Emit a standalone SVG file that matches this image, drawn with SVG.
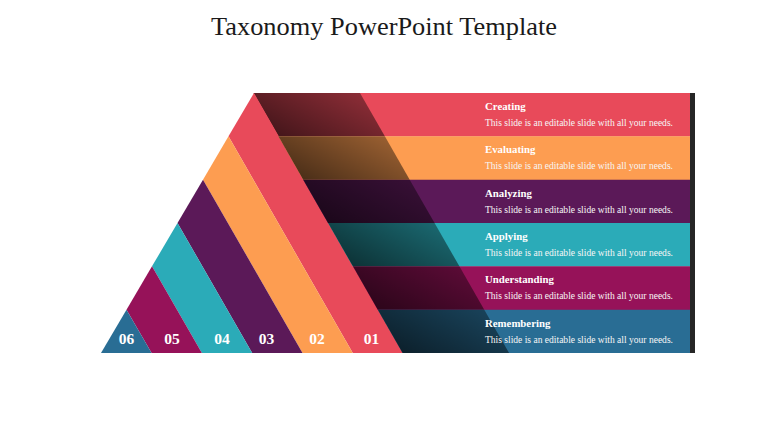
<svg xmlns="http://www.w3.org/2000/svg" width="768" height="433" viewBox="0 0 768 433">
<defs>
<linearGradient id="shade" x1="0" y1="0.8" x2="1" y2="0.2">
<stop offset="0" stop-color="#000" stop-opacity="0.72"/>
<stop offset="0.5" stop-color="#000" stop-opacity="0.55"/>
<stop offset="1" stop-color="#000" stop-opacity="0.38"/>
</linearGradient>
<style>
.title{font-family:"Liberation Serif","DejaVu Serif",serif;font-size:25px;fill:#1a1a1a;}
.head{font-family:"Liberation Serif","DejaVu Serif",serif;font-size:10.8px;font-weight:bold;fill:#ffffff;}
.desc{font-family:"Liberation Serif","DejaVu Serif",serif;font-size:9.6px;fill:#f6f6f6;}
.num{font-family:"Liberation Serif","DejaVu Serif",serif;font-size:15.5px;font-weight:bold;fill:#ffffff;text-anchor:middle;}
.shade{fill:url(#shade);}
.red{fill:#E84A5A;}
.orange{fill:#FD9D51;}
.purple{fill:#5B1958;}
.teal{fill:#2BABB8;}
.magenta{fill:#961259;}
.blue{fill:#296D94;}
</style>
</defs>
<rect width="768" height="433" fill="#ffffff"/>
<text class="title" x="384" y="35" text-anchor="middle" textLength="346" lengthAdjust="spacingAndGlyphs">Taxonomy PowerPoint Template</text>

<g id="level-01">
<polygon class="red" points="253.5,93 690,93 690,136.6 278.4,136.6"/>
<polygon class="shade" points="253.5,93 360,93 384.85,136.33 278.4,136.33"/>
<polygon class="red" points="254,93 403.1,353 352.8,353 228.5,136.33"/>
<text class="num" x="371.5" y="343.5">01</text>
<text class="head" x="485" y="110">Creating</text>
<text class="desc" x="485" y="126" textLength="188" lengthAdjust="spacingAndGlyphs">This slide is an editable slide with all your needs.</text>
</g>

<g id="level-02">
<polygon class="orange" points="278.4,136.33 690,136.33 690,179.9 303.2,179.9"/>
<polygon class="shade" points="278.4,136.33 384.85,136.33 409.7,179.67 303.2,179.67"/>
<polygon class="orange" points="228.5,136.33 352.8,353 302.5,353 203,179.67"/>
<text class="num" x="317" y="343.5">02</text>
<text class="head" x="485" y="153.3">Evaluating</text>
<text class="desc" x="485" y="169.3" textLength="188" lengthAdjust="spacingAndGlyphs">This slide is an editable slide with all your needs.</text>
</g>

<g id="level-03">
<polygon class="purple" points="303.2,179.67 690,179.67 690,223.2 328.1,223.2"/>
<polygon class="shade" points="303.2,179.67 409.7,179.67 434.56,223 328.1,223"/>
<polygon class="purple" points="203,179.67 302.5,353 252.2,353 177.5,223"/>
<text class="num" x="266.5" y="343.5">03</text>
<text class="head" x="485" y="196.7">Analyzing</text>
<text class="desc" x="485" y="212.7" textLength="188" lengthAdjust="spacingAndGlyphs">This slide is an editable slide with all your needs.</text>
</g>

<g id="level-04">
<polygon class="teal" points="328.1,223 690,223 690,266.6 352.9,266.6"/>
<polygon class="shade" points="328.1,223 434.56,223 459.4,266.33 352.9,266.33"/>
<polygon class="teal" points="177.5,223 252.2,353 201.9,353 152,266.33"/>
<text class="num" x="222" y="343.5">04</text>
<text class="head" x="485" y="240">Applying</text>
<text class="desc" x="485" y="256" textLength="188" lengthAdjust="spacingAndGlyphs">This slide is an editable slide with all your needs.</text>
</g>

<g id="level-05">
<polygon class="magenta" points="352.9,266.33 690,266.33 690,309.9 377.8,309.9"/>
<polygon class="shade" points="352.9,266.33 459.4,266.33 484.26,309.67 377.8,309.67"/>
<polygon class="magenta" points="152,266.33 201.9,353 151.6,353 126.5,309.67"/>
<text class="num" x="172" y="343.5">05</text>
<text class="head" x="485" y="283.3">Understanding</text>
<text class="desc" x="485" y="299.3" textLength="188" lengthAdjust="spacingAndGlyphs">This slide is an editable slide with all your needs.</text>
</g>

<g id="level-06">
<polygon class="blue" points="377.8,309.67 690,309.67 690,353 402.6,353"/>
<polygon class="shade" points="377.8,309.67 484.26,309.67 509.1,353 402.6,353"/>
<polygon class="blue" points="126.5,309.67 151.6,353 101,353"/>
<text class="num" x="126.5" y="343.5">06</text>
<text class="head" x="485" y="326.7">Remembering</text>
<text class="desc" x="485" y="342.7" textLength="188" lengthAdjust="spacingAndGlyphs">This slide is an editable slide with all your needs.</text>
</g>

<g id="edge-bar">
<rect x="690" y="93" width="5" height="260" fill="#262626"/>
</g>
</svg>
